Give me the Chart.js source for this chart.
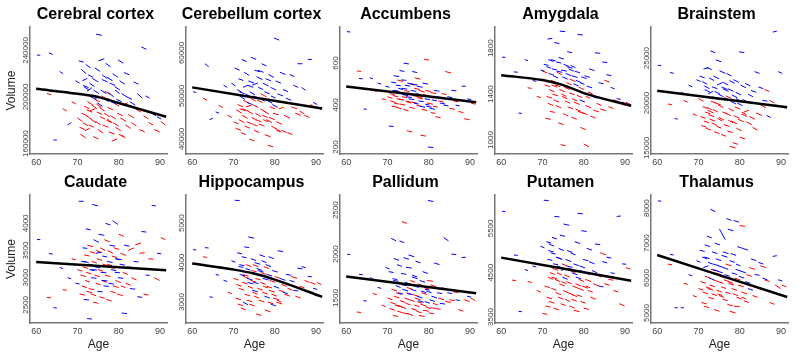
<!DOCTYPE html>
<html>
<head>
<meta charset="utf-8">
<script src="https://cdn.jsdelivr.net/npm/chart.js@4.4.1/dist/chart.umd.min.js"></script>
<style>
  html, body { margin: 0; padding: 0; background: #fff; }
  #wrap { position: relative; width: 800px; height: 360px; overflow: hidden; }
  #wrap canvas { position: absolute; }
</style>
</head>
<body>
<div id="wrap"></div>
<script>
/* ---------- subjects (shared by all panels) ---------- */
const ageStart = [60.2,62.6,63.1,64.2,65.7,66.4,67.6,68.6,69.5,70.0,
  70.3,70.5,70.7,70.9,71.0,71.2,71.3,71.5,71.6,71.8,
  72.0,72.1,72.3,72.4,72.6,72.7,72.9,73.0,73.2,73.3,
  73.5,73.6,73.8,73.9,74.1,74.2,74.4,74.5,74.7,74.8,
  75.0,75.1,75.3,75.5,75.6,75.8,76.0,76.1,76.3,76.5,
  76.6,76.8,77.0,77.1,77.3,77.5,77.6,77.8,78.0,78.1,
  78.3,78.5,78.6,78.8,79.0,79.2,79.4,79.6,79.8,80.0,
  80.2,80.4,80.7,81.0,81.3,81.6,82.0,82.3,82.7,83.1,
  83.6,84.0,84.5,85.0,85.5,86.0,86.5,87.2,88.0,88.6,
  89.3,90.2,71.4,72.2,73.4,74.6,75.9,77.2,79.1,80.5];
const ageEnd = [61.0,63.6,64.0,65.0,66.5,67.4,68.5,69.6,70.5,71.2,
  71.5,71.8,72.0,72.1,72.3,72.4,72.6,72.8,72.9,73.0,
  73.2,73.4,73.5,73.8,73.8,74.0,74.1,74.3,74.5,74.6,
  74.7,75.0,75.1,75.2,75.4,75.5,75.6,75.9,76.0,76.1,
  76.2,76.5,76.6,76.7,77.0,77.1,77.2,77.5,77.6,77.8,
  78.0,78.0,78.3,78.5,78.6,78.8,79.0,79.1,79.3,79.4,
  79.6,79.8,80.0,80.1,80.3,80.5,80.7,81.0,81.1,81.3,
  81.5,81.8,82.0,82.2,82.6,82.9,83.2,83.7,84.0,84.3,
  84.8,85.4,85.7,86.3,86.7,87.2,87.5,88.4,89.0,89.9,
  90.3,91.3,72.7,73.6,74.8,75.8,77.3,78.4,80.2,81.6];
// M = blue, F = red
const sex = "MFMMMFMFMF" + "MFFMFMFMFF" + "MFMFMFMFFM" + "FMFMFMFMFM" + "FMFFMFMFMF" +
            "FMFMFMFMFM" + "FMFFMFMFMF" + "MFMFMFMFMF" + "MFMFMFMFMF" + "MFMFMFMFMF";

const ageTicks = [60, 70, 80, 90];
const trendX2 = [60, 91.5];
const trendX5 = [60, 70, 75, 80, 91.5];

/* ---------- Cerebral cortex ---------- */
const cortexStart = [236000,203000,238000,163000,222000,190000,176000,196000,214000,182000,
  231000,174000,168000,224000,186000,214000,178000,209000,192000,171000,
  228000,184000,205000,196000,219000,176000,212000,188000,181000,200000,
  193000,216000,166000,206000,198000,225000,179000,254000,187000,195000,
  172000,231000,191000,183000,206000,201000,219000,176000,199000,186000,
  205000,229000,180000,217000,191000,204000,170000,212000,184000,196000,
  162000,220000,178000,195000,209000,174000,198000,186000,232000,168000,
  214000,182000,203000,193000,221000,176000,200000,185000,196000,178000,
  213000,190000,203000,172000,243000,184000,201000,178000,186000,172000,
  183000,179000,210000,189000,202000,194000,215000,181000,206000,167000];
const cortexEnd = [236000,202000,236500,163000,220000,188000,178000,194000,212000,179000,
  230000,172000,165000,220000,184000,216000,175000,206000,190000,173000,
  225000,181000,208000,193000,217000,174000,209000,190000,178000,198000,
  190000,213000,164000,203000,196000,222000,176000,253000,185000,192000,
  169000,233000,188000,181000,203000,198000,216000,174000,196000,183000,
  202000,226000,178000,214000,189000,200000,168000,210000,181000,194000,
  164000,217000,175000,192000,206000,171000,196000,184000,229000,166000,
  211000,179000,200000,195000,219000,173000,198000,182000,193000,175000,
  211000,187000,199000,170000,241000,181000,199000,176000,184000,170000,
  181000,176000,208000,187000,199000,191000,213000,178000,203000,165000];
const cortexTrend = [207000, 202800, 200000, 194800, 183000];
const cortexTicks = [160000, 200000, 240000];

/* ---------- Cerebellum cortex ---------- */
const cerebStart = [51000,49500,57500,44500,46300,47800,52500,45500,53000,44000,
  56500,42500,46800,51500,48000,54000,44500,50000,47000,41500,
  58500,45500,52000,49000,55500,43000,50500,47500,44000,48500,
  46500,53500,40000,51000,49500,59000,45000,52500,48000,50000,
  42000,56000,46000,44500,54500,49000,52000,43500,49500,47000,
  50500,57500,45500,53000,46500,51000,41000,54000,44500,49000,
  38500,55000,45000,47500,52000,43000,48000,46000,63500,42500,
  53500,44000,50500,47000,55500,42000,51500,45500,49500,41500,
  55000,47500,52500,46000,57500,46500,52000,45500,58500,48000,
  48500,47500,51000,47000,52500,43500,56000,44500,50000,42000];
const cerebEnd = [50800,49000,56800,44800,46000,47300,52000,45000,52300,43500,
  56000,42000,46000,50800,47500,53600,43800,49200,46600,41000,
  58000,44800,52500,48300,54800,42500,49800,47800,43500,48000,
  45800,53000,39500,50300,48800,58500,44300,53000,47300,49500,
  41500,55600,45200,44000,53800,48500,51500,43000,48800,46300,
  49800,57000,45000,52300,45800,50500,40500,53500,43800,48300,
  38200,54300,44500,47000,51400,42300,47400,45600,63000,41800,
  53000,43400,50000,47400,55000,41500,51000,44800,49000,41000,
  54500,47000,52000,45500,57500,45800,51300,45000,58500,47300,
  48000,46800,50500,46500,52000,43000,55500,44000,49500,41600];
const cerebTrend = [52000, 47100];
const cerebTicks = [40000, 50000, 60000];

/* ---------- Accumbens ---------- */
const accStart = [750,563,527,381,530,470,505,430,490,440,
  300,455,420,510,395,470,445,540,410,470,
  495,390,460,520,480,430,565,405,460,520,
  440,450,380,600,470,495,420,440,278,505,
  455,430,390,500,470,415,560,445,410,480,
  530,455,400,490,435,420,470,395,257,445,
  380,505,450,619,430,470,395,410,200,440,
  385,460,425,395,470,345,440,420,410,455,
  400,560,440,385,470,420,400,370,490,335,
  430,410,470,430,480,415,500,440,405,365];
const accEnd = [748,560,525,380,526,465,500,426,485,432,
  298,448,412,505,390,466,440,536,404,464,
  492,382,455,512,474,423,560,400,452,518,
  436,445,372,596,463,490,414,436,272,500,
  448,426,384,495,465,410,555,440,405,474,
  524,450,394,485,429,416,462,390,252,440,
  374,500,445,614,426,465,390,404,198,434,
  380,455,420,390,466,340,436,414,405,450,
  396,553,436,380,468,415,396,364,490,330,
  426,404,465,425,476,410,496,436,400,360];
const accTrend = [489, 413];
const accTicks = [200, 400, 600];

/* ---------- Amygdala ---------- */
const amyStart = [1722,1560,1594,1235,1700,1455,1520,1380,1610,1600,
  1660,1480,1190,1640,1380,1880,1320,1580,1440,1250,
  1700,1520,1620,1400,1560,1350,1850,1480,1300,1680,
  1590,1500,1150,1720,1440,1948,960,1610,1380,1550,
  1230,1660,1460,1340,1580,1500,1770,1290,1620,1410,
  1530,1650,1200,1560,1450,1490,1330,1600,1270,1520,
  1390,1920,1250,1460,1350,1110,1550,1240,1410,965,
  1560,1300,1470,1420,1620,1210,1380,1260,1760,1320,
  1500,1270,1680,1520,1570,1290,1460,1350,1360,1330,
  1330,1330,1700,1480,1600,1400,1640,1360,1500,1380];
const amyEnd = [1720,1552,1590,1232,1692,1450,1510,1370,1600,1585,
  1650,1465,1180,1625,1365,1885,1300,1565,1420,1240,
  1690,1500,1610,1385,1540,1330,1840,1465,1280,1670,
  1570,1480,1135,1705,1420,1945,950,1600,1360,1530,
  1210,1640,1440,1320,1560,1480,1760,1270,1600,1395,
  1510,1630,1180,1545,1430,1470,1310,1585,1250,1500,
  1370,1915,1230,1440,1330,1090,1535,1220,1395,940,
  1545,1280,1455,1400,1605,1190,1365,1245,1755,1300,
  1490,1255,1675,1505,1560,1275,1445,1335,1355,1300,
  1315,1310,1685,1460,1590,1380,1625,1340,1485,1365];
const amyTrend = [1565, 1522, 1478, 1409, 1298];
const amyTicks = [1000, 1400, 1800];

/* ---------- Brainstem ---------- */
const brainStart = [24200,19900,23400,18300,21200,20300,22000,18800,22600,20500,
  23000,18500,17500,22400,19600,23800,18000,21500,19000,17200,
  24000,19500,21000,18700,22800,18200,25800,20200,17800,21800,
  19300,23000,16800,21300,20000,24800,17400,22000,19800,21000,
  18400,23600,20500,16500,21800,19000,22300,17600,20600,18900,
  20800,23300,16900,21600,19400,22500,15200,20200,18000,20900,
  15600,22600,18600,19600,21200,17200,20000,18200,25700,16200,
  22000,18800,20400,19000,22200,17900,21000,18500,21400,17300,
  23500,18900,21800,19800,20300,21500,18600,20300,27900,19800,
  23500,19600,21900,19200,20700,18300,21600,18100,20500,19000];
const brainEnd = [24150,19800,23300,18200,21050,20100,21800,18600,22400,20200,
  22800,18300,17300,22100,19400,23900,17800,21200,18800,17000,
  23700,19200,21300,18500,22500,18000,25600,20000,17500,21600,
  19000,22700,16600,21000,19800,24600,17200,22300,19500,20700,
  18100,23300,20300,16300,21500,18800,22000,17400,20300,18600,
  20500,23000,16700,21300,19100,22200,15000,19900,17700,20600,
  15400,22300,18300,19300,20900,16900,19700,17900,25600,16000,
  21700,18500,20100,19200,21900,17600,20700,18200,21200,17000,
  23300,18600,21600,19500,20200,21300,18400,20000,28000,19600,
  23300,19400,21600,18900,20400,18000,21300,17800,20200,18700];
const brainTrend = [21370, 19520];
const brainTicks = [15000, 20000, 25000];

/* ---------- Caudate ---------- */
const cauStart = [3704,2637,3445,2452,3186,2780,3000,3350,2900,3150,
  4407,2700,3050,3300,2850,3550,3200,2600,3420,2950,
  3900,3100,2248,3600,3250,2800,3150,3480,2700,3000,
  3300,4350,2550,3700,3050,3200,2900,3450,3350,2750,
  3150,3800,2650,3550,3100,2950,3400,3250,2850,3700,
  3050,4000,2600,3300,3500,2900,3200,3600,2750,3150,
  3400,4050,2850,3550,3100,2950,3350,2700,3000,3800,
  3250,3450,2350,3100,3600,2900,3200,3500,2800,3000,
  3300,3600,2650,3450,3850,2700,3050,3350,4330,3000,
  3450,3740,3300,2750,3150,3500,2950,3250,3350,2850];
const cauEnd = [3700,2630,3435,2440,3170,2770,2980,3330,2885,3120,
  4405,2680,3020,3290,2820,3540,3170,2590,3400,2920,
  3880,3070,2240,3570,3230,2780,3130,3450,2670,2990,
  3270,4320,2530,3650,3020,3180,2870,3470,3320,2740,
  3120,3780,2620,3500,3090,2920,3380,3220,2840,3660,
  3020,3970,2570,3280,3450,2880,3170,3580,2720,3130,
  3370,3980,2820,3520,3090,2910,3330,2670,2990,3760,
  3230,3410,2340,3060,3580,2860,3190,3550,2790,2960,
  3290,3640,2640,3460,3840,2680,3040,3340,4320,2950,
  3440,3700,3280,2720,3140,3460,2940,3220,3330,2820];
const cauTrend = [3290, 3137];
const cauTicks = [2500, 3000, 3500, 4000];

/* ---------- Hippocampus ---------- */
const hipStart = [4330,4150,4380,3130,3700,3900,3550,3250,4050,3600,
  5580,3100,3450,4250,2950,3900,3350,3700,3800,2850,
  4150,3500,3000,3650,4400,3200,3850,3950,3050,3600,
  3400,4650,2950,3750,3550,4100,3800,3300,3950,3500,
  3150,4000,3600,2700,3850,3350,3700,3050,4200,3500,
  3750,4050,3250,3600,3900,3150,2800,3950,3400,3700,
  3000,4150,3300,3550,2950,3200,3800,3100,3400,3650,
  3550,3000,4300,3300,3600,3450,3250,3200,3700,3350,
  3550,3650,3300,3150,3860,3400,3900,3550,3650,3500,
  3350,3500,3950,3700,3500,3250,3800,3400,3600,3050];
const hipEnd = [4320,4130,4370,3120,3680,3860,3520,3210,4010,3560,
  5575,3060,3400,4220,2910,3880,3300,3660,3760,2800,
  4120,3460,2930,3600,4380,3160,3810,3900,3010,3560,
  3350,4620,2900,3700,3510,4050,3770,3260,3900,3470,
  3100,3960,3560,2660,3800,3300,3650,3000,4150,3450,
  3700,4000,3200,3560,3850,3100,2750,3900,3360,3660,
  2960,4100,3250,3500,2900,3150,3760,3060,3350,3600,
  3500,2950,4280,3260,3550,3400,3210,3150,3680,3300,
  3510,3600,3280,3100,3840,3360,3870,3500,3640,3450,
  3320,3440,3920,3660,3460,3200,3760,3360,3570,3000];
const hipTrend = [3975, 3823, 3722, 3570, 3132];
const hipTicks = [3000, 4000, 5000];

/* ---------- Pallidum ---------- */
const palStart = [2000,1340,1770,1470,1730,1550,1620,1420,1850,1500,
  1800,1380,1450,2180,1600,1720,1300,1950,1520,1420,
  1640,1560,1880,1350,1560,1680,2150,1470,1400,1780,
  2370,1600,1330,1960,1500,1680,1440,1850,1620,1550,
  1320,1990,1480,1700,1600,1380,1760,1540,1640,1420,
  1500,1920,1350,1520,1660,1470,1300,1700,1430,1580,
  1560,1800,1360,1620,1460,1400,1580,1700,2610,1330,
  1480,1650,1520,1440,1900,1380,1560,1500,1440,1620,
  2190,1460,1560,1480,2000,1570,1480,1370,1960,1480,
  1520,1500,1700,1420,1650,1560,1740,1460,1600,1390];
const palEnd = [1995,1335,1765,1465,1720,1540,1610,1400,1830,1480,
  1790,1360,1430,2150,1580,1710,1290,1930,1500,1400,
  1620,1540,1860,1330,1545,1660,2130,1450,1380,1770,
  2350,1580,1320,1940,1480,1660,1420,1840,1600,1540,
  1300,1970,1460,1680,1580,1360,1740,1520,1620,1400,
  1480,1900,1330,1500,1640,1450,1290,1680,1410,1560,
  1540,1780,1350,1600,1440,1380,1560,1690,2600,1320,
  1460,1630,1500,1420,1880,1370,1550,1480,1430,1600,
  2150,1450,1550,1470,1995,1560,1470,1350,1965,1460,
  1510,1470,1690,1400,1640,1540,1720,1440,1590,1380];
const palTrend = [1746, 1555];
const palTicks = [1500, 2000, 2500];

/* ---------- Putamen ---------- */
const putStart = [5886,4334,4900,3625,4570,4300,4650,4100,5100,3580,
  6136,4200,3750,5200,3950,4800,4400,5150,3850,4500,
  4950,4150,5300,4600,4700,3700,5770,4350,4050,4850,
  4500,4650,3950,5050,4250,5350,3800,4550,4700,4400,
  4100,5600,4450,3900,4800,4300,5000,4050,4600,3750,
  4550,4950,3900,4500,4200,4700,3650,5200,4250,4400,
  4000,5840,4150,4350,4650,3850,5450,4200,4800,3700,
  4500,4350,5050,4100,4750,3950,4550,4250,5150,4450,
  4200,4950,4750,4250,4850,4350,4500,4100,5770,3800,
  4700,4615,5000,4400,4850,4300,4650,4000,4550,4200];
const putEnd = [5880,4320,4890,3620,4550,4280,4630,4060,5060,3560,
  6130,4160,3720,5170,3910,4780,4350,5100,3810,4460,
  4920,4100,5260,4550,4680,3660,5760,4300,4000,4810,
  4450,4600,3900,5000,4200,5320,3760,4600,4650,4350,
  4050,5570,4400,3850,4750,4250,4960,4000,4560,3700,
  4500,4900,3860,4450,4150,4660,3620,5160,4200,4360,
  3960,5830,4100,4300,4610,3810,5430,4150,4770,3670,
  4460,4300,5010,4060,4700,3900,4500,4200,5130,4400,
  4180,4900,4720,4220,4830,4330,4480,4060,5780,3750,
  4690,4580,4970,4360,4800,4250,4620,3960,4510,4160];
const putTrend = [4840, 4318];
const putTicks = [3500, 4500, 5500];

/* ---------- Thalamus ---------- */
const thalStart = [8210,6400,6680,5150,5150,5850,6100,5500,6500,5700,
  6800,5900,5300,6600,5600,6300,5200,6950,6050,5750,
  7200,6200,6450,5450,6000,5800,7970,6250,5550,6750,
  5950,6400,5100,7000,6150,6550,5650,6200,5900,6350,
  5500,7400,6050,5750,6650,5400,6300,5950,6100,5600,
  6400,7700,5250,7400,5850,6500,5050,6700,5700,6150,
  5550,7650,5200,6000,6250,5450,6900,5800,6050,7500,
  6200,5600,6850,5350,5900,6100,5700,6300,6550,5500,
  6100,5750,6450,6350,6000,5950,5650,5300,6620,5800,
  5950,5800,6600,5700,6250,5550,6750,5900,6400,5450];
const thalEnd = [8200,6380,6660,5150,5150,5820,6060,5460,6450,5650,
  6760,5850,5260,6550,5550,6350,5150,6900,6000,5700,
  7150,6150,6400,5400,5950,5750,7900,6200,5500,6700,
  5900,6350,5050,6950,6100,6500,5600,6150,5850,6300,
  5450,7100,6000,5700,6600,5350,6250,5900,6050,5550,
  6350,7650,5200,7350,5800,6450,5000,6650,5650,6100,
  5500,7600,5180,5950,6200,5400,6850,5750,6000,7480,
  6150,5550,6800,5300,5850,6050,5650,6250,6500,5450,
  6080,5700,6400,6300,5950,5900,5600,5250,6640,5700,
  5920,5750,6560,5650,6200,5500,6700,5850,6350,5400];
const thalTrend = [6658, 5457];
const thalTicks = [5000, 6000, 7000, 8000];

/* ---------- panel table ---------- */
const panels = [
  { title: "Cerebral cortex",   v0: cortexStart, v1: cortexEnd, tx: trendX5, ty: cortexTrend, ticks: cortexTicks, min: 151000, max: 260000 },
  { title: "Cerebellum cortex", v0: cerebStart,  v1: cerebEnd,  tx: trendX2, ty: cerebTrend,  ticks: cerebTicks,  min: 36500,  max: 66000 },
  { title: "Accumbens",         v0: accStart,    v1: accEnd,    tx: trendX2, ty: accTrend,    ticks: accTicks,    min: 167,    max: 771 },
  { title: "Amygdala",          v0: amyStart,    v1: amyEnd,    tx: trendX5, ty: amyTrend,    ticks: amyTicks,    min: 878,    max: 1983 },
  { title: "Brainstem",         v0: brainStart,  v1: brainEnd,  tx: trendX2, ty: brainTrend,  ticks: brainTicks,  min: 14330,  max: 28440 },
  { title: "Caudate",           v0: cauStart,    v1: cauEnd,    tx: trendX2, ty: cauTrend,    ticks: cauTicks,    min: 2167,   max: 4518 },
  { title: "Hippocampus",       v0: hipStart,    v1: hipEnd,    tx: trendX5, ty: hipTrend,    ticks: hipTicks,    min: 2469,   max: 5709 },
  { title: "Pallidum",          v0: palStart,    v1: palEnd,    tx: trendX2, ty: palTrend,    ticks: palTicks,    min: 1215,   max: 2671 },
  { title: "Putamen",           v0: putStart,    v1: putEnd,    tx: trendX2, ty: putTrend,    ticks: putTicks,    min: 3364,   max: 6250 },
  { title: "Thalamus",          v0: thalStart,   v1: thalEnd,   tx: trendX2, ty: thalTrend,   ticks: thalTicks,   min: 4714,   max: 8371 }
];

/* ---------- layout ---------- */
const FONT = "'Liberation Sans', Arial, Helvetica, sans-serif";
Chart.defaults.font.family = FONT;
const plotLeft = [30, 186, 340, 495, 651];
const rowTop   = [0, 170];

// one short line per subject, gaps between them (y:null breaks the line)
function segs(v0, v1, who) {
  const pts = [];
  for (let i = 0; i < sex.length; i++) {
    if (sex[i] !== who) continue;
    pts.push({ x: ageStart[i], y: v0[i] }, { x: ageEnd[i], y: v1[i] }, { x: ageEnd[i], y: null });
  }
  return pts;
}

// rotated y tick labels, placed with the y scale
function yLabels(values) {
  return {
    id: "yLabels",
    afterDraw(chart) {
      const s = chart.scales.y, ctx = chart.ctx;
      ctx.save();
      ctx.font = "8px " + FONT;
      ctx.fillStyle = "#444";
      ctx.textAlign = "center";
      ctx.textBaseline = "middle";
      values.forEach(v => {
        ctx.save();
        ctx.translate(chart.chartArea.left - 4.5, s.getPixelForValue(v));
        ctx.rotate(-Math.PI / 2);
        ctx.fillText(String(v), 0, 0);
        ctx.restore();
      });
      ctx.restore();
    }
  };
}

const wrap = document.getElementById("wrap");

panels.forEach((p, k) => {
  const row = k < 5 ? 0 : 1, col = k % 5;
  const cv = document.createElement("canvas");
  cv.width  = 191;
  cv.height = row ? 190 : 170;
  cv.style.left = (plotLeft[col] - 30) + "px";
  cv.style.top  = rowTop[row] + "px";
  wrap.appendChild(cv);

  new Chart(cv, {
    type: "line",
    data: {
      datasets: [
        { data: p.tx.map((x, i) => ({ x, y: p.ty[i] })), borderColor: "#000", borderWidth: 2.5,
          pointRadius: 0, cubicInterpolationMode: "monotone" },
        { data: segs(p.v0, p.v1, "M"), borderColor: "#0000ff", borderWidth: 1, pointRadius: 0 },
        { data: segs(p.v0, p.v1, "F"), borderColor: "#ff0000", borderWidth: 1, pointRadius: 0 }
      ]
    },
    options: {
      responsive: false,
      animation: false,
      events: [],
      layout: { padding: { left: 0, right: 0, top: 0, bottom: row ? 6 : 0 } },
      plugins: {
        legend: { display: false },
        tooltip: { enabled: false },
        title: { display: true, text: p.title, color: "#000",
                 font: { size: 16, weight: "bold" }, padding: { top: row ? 3 : 5, bottom: 3 } }
      },
      scales: {
        x: {
          type: "linear", min: 58.5, max: 91.7,
          afterBuildTicks: s => { s.ticks = ageTicks.map(v => ({ value: v })); },
          afterFit: s => { s.height = row ? 31 : 16; },
          grid: { display: false, drawTicks: false },
          border: { color: "#777", width: 1.5 },
          ticks: { color: "#444", font: { size: 9 }, padding: 3, autoSkip: false, maxRotation: 0 },
          title: { display: row === 1, text: "Age", color: "#222", font: { size: 12 }, padding: { top: 4, bottom: 2 } }
        },
        y: {
          min: p.min, max: p.max,
          afterFit: s => { s.width = 30; },
          grid: { display: false, drawTicks: false },
          border: { color: "#777", width: 1.5 },
          ticks: { display: false },
          title: { display: col === 0, text: "Volume", color: "#222", font: { size: 12 } }
        },
        // empty right-hand spacer so the title sits centred over the plot
        yR: {
          position: "right",
          afterFit: s => { s.width = 24; },
          grid: { display: false, drawTicks: false },
          border: { display: false },
          ticks: { display: false }
        }
      }
    },
    plugins: [yLabels(p.ticks)]
  });
});
</script>
</body>
</html>
